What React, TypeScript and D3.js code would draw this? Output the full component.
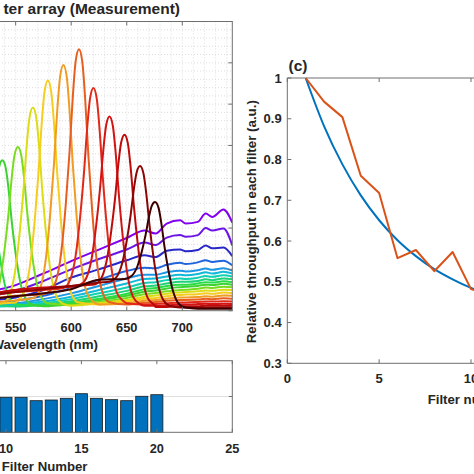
import * as d3 from 'd3'

// ---------- (b) measured transmission of the filter array ----------
const wavelengthTicks = [550, 600, 650, 700]
const transmissionTicks = [0, 0.1, 0.2, 0.3, 0.4, 0.5, 0.6, 0.7]

const filterColors = [
  '#8000f0', '#6a14e6', '#2828c8', '#1e64dc', '#1e96e6',
  '#10b9d7', '#10d2b4', '#1ed278', '#28dc46', '#3cd232',
  '#78dc1e', '#dcdc14', '#f5cd1e', '#f09b23', '#e65f1e',
  '#e12819', '#d21414', '#be0a0a', '#8c0505', '#3c0000',
]

// centre wavelength (nm) and peak transmission of every filter
const peakCenters = [414, 428, 442, 455, 469, 483, 497, 511, 524, 538, 552, 565.5, 579, 593, 607, 620, 634.5, 648, 662, 675.5]
const peakTops = [0.12, 0.15, 0.18, 0.21, 0.24, 0.27, 0.29, 0.31, 0.33, 0.364, 0.396, 0.492, 0.557, 0.595, 0.633, 0.539, 0.47, 0.426, 0.35, 0.263]

// measured passband profile (offset in nm, fraction of the peak)
const peakOffsets = [-27, -21, -16, -12, -8.5, -5.5, -3, 0, 3, 5.5, 8.5, 12, 16, 21, 27]
const peakShape = [0.01, 0.05, 0.17, 0.36, 0.58, 0.81, 0.95, 1, 0.95, 0.81, 0.58, 0.36, 0.17, 0.05, 0.01]

// out-of-band leakage of every filter, sampled on this wavelength grid
const leakGrid = [400, 450, 500, 525, 550, 575, 600, 625, 650, 666, 676, 686, 698, 703, 714, 721, 727, 737, 745]
const leakage = [
  [0.03, 0.02, 0.03, 0.045, 0.062, 0.09, 0.12, 0.148, 0.176, 0.194, 0.187, 0.211, 0.219, 0.211, 0.215, 0.235, 0.227, 0.245, 0.213],
  [0.02, 0.02, 0.025, 0.035, 0.048, 0.072, 0.1, 0.125, 0.148, 0.165, 0.159, 0.177, 0.183, 0.179, 0.183, 0.2, 0.194, 0.199, 0.158],
  [0.01, 0.015, 0.02, 0.025, 0.032, 0.05, 0.08, 0.1, 0.122, 0.134, 0.13, 0.145, 0.148, 0.144, 0.147, 0.158, 0.151, 0.153, 0.132],
  [0.01, 0.01, 0.015, 0.018, 0.024, 0.036, 0.055, 0.075, 0.096, 0.104, 0.103, 0.111, 0.116, 0.113, 0.117, 0.122, 0.118, 0.121, 0.11],
  [0.01, 0.01, 0.012, 0.014, 0.018, 0.028, 0.042, 0.06, 0.078, 0.087, 0.087, 0.093, 0.097, 0.095, 0.098, 0.102, 0.099, 0.103, 0.097],
  [0.005, 0.01, 0.012, 0.012, 0.015, 0.022, 0.034, 0.05, 0.066, 0.077, 0.078, 0.083, 0.087, 0.086, 0.089, 0.093, 0.09, 0.094, 0.09],
  [0.005, 0.008, 0.01, 0.01, 0.012, 0.018, 0.028, 0.042, 0.056, 0.067, 0.069, 0.074, 0.078, 0.077, 0.08, 0.084, 0.082, 0.086, 0.083],
  [0.005, 0.006, 0.008, 0.009, 0.01, 0.015, 0.023, 0.035, 0.048, 0.059, 0.061, 0.066, 0.07, 0.07, 0.072, 0.076, 0.074, 0.078, 0.076],
  [0.004, 0.005, 0.006, 0.008, 0.009, 0.012, 0.019, 0.029, 0.041, 0.052, 0.055, 0.06, 0.063, 0.063, 0.066, 0.069, 0.068, 0.071, 0.069],
  [0.004, 0.005, 0.008, 0.01, 0.01, 0.011, 0.016, 0.025, 0.036, 0.046, 0.049, 0.054, 0.057, 0.058, 0.06, 0.063, 0.062, 0.065, 0.063],
  [0.004, 0.005, 0.008, 0.012, 0.014, 0.01, 0.014, 0.021, 0.031, 0.04, 0.043, 0.047, 0.05, 0.051, 0.053, 0.056, 0.055, 0.058, 0.057],
  [0.004, 0.006, 0.01, 0.014, 0.016, 0.018, 0.012, 0.018, 0.026, 0.034, 0.037, 0.041, 0.044, 0.045, 0.047, 0.049, 0.048, 0.051, 0.05],
  [0.004, 0.008, 0.012, 0.016, 0.02, 0.022, 0.02, 0.015, 0.022, 0.029, 0.031, 0.035, 0.038, 0.039, 0.04, 0.042, 0.041, 0.044, 0.043],
  [0.005, 0.01, 0.015, 0.02, 0.025, 0.028, 0.03, 0.015, 0.018, 0.024, 0.026, 0.029, 0.032, 0.032, 0.033, 0.035, 0.034, 0.037, 0.036],
  [0.006, 0.012, 0.02, 0.028, 0.036, 0.04, 0.042, 0.04, 0.015, 0.019, 0.021, 0.024, 0.026, 0.026, 0.027, 0.029, 0.028, 0.03, 0.029],
  [0.006, 0.014, 0.025, 0.035, 0.045, 0.05, 0.052, 0.05, 0.018, 0.015, 0.016, 0.018, 0.02, 0.02, 0.021, 0.022, 0.022, 0.023, 0.022],
  [0.006, 0.015, 0.028, 0.04, 0.05, 0.056, 0.058, 0.06, 0.055, 0.012, 0.012, 0.013, 0.015, 0.015, 0.016, 0.017, 0.016, 0.017, 0.016],
  [0.006, 0.015, 0.03, 0.04, 0.05, 0.055, 0.06, 0.065, 0.06, 0.03, 0.009, 0.009, 0.011, 0.011, 0.011, 0.012, 0.012, 0.012, 0.012],
  [0.005, 0.015, 0.03, 0.038, 0.045, 0.052, 0.06, 0.068, 0.076, 0.08, 0.02, 0.007, 0.008, 0.008, 0.008, 0.008, 0.008, 0.008, 0.008],
  [0.004, 0.012, 0.022, 0.028, 0.035, 0.042, 0.052, 0.075, 0.095, 0.11, 0.12, 0.01, 0.005, 0.005, 0.005, 0.005, 0.005, 0.005, 0.005],
]

// ---------- uniformity bars ----------
const filterNumbers = [1, 2, 3, 4, 5, 6, 7, 8, 9, 10, 11, 12, 13, 14, 15, 16, 17, 18, 19, 20]
const barValues = [1.01, 0.98, 1.03, 0.96, 1.0, 0.97, 1.02, 0.95, 0.99, 0.978, 0.978, 0.883, 0.902, 0.95, 1.078, 0.95, 0.911, 0.883, 1.006, 1.05]
const barTicks = [10, 15, 20, 25]

// ---------- (c) relative throughput ----------
const throughputFilters = [1, 2, 3, 4, 5, 6, 7, 8, 9, 10, 11]
const fittedThroughput = [1.0, 0.882, 0.788, 0.712, 0.651, 0.602, 0.563, 0.531, 0.506, 0.485, 0.469]
const measuredThroughput = [1.0, 0.942, 0.904, 0.76, 0.718, 0.558, 0.578, 0.526, 0.573, 0.482, 0.47]
const throughputYTicks = [0.3, 0.4, 0.5, 0.6, 0.7, 0.8, 0.9, 1]
const throughputXTicks = [0, 5, 10, 15]

const ink = '#262626'
const axisGrey = '#6f6f6f'
const font = "'Liberation Sans', Arial, Helvetica, sans-serif"

type Pt = [number, number]

function spectrumPoints(i: number): Pt[] {
  const c = peakCenters[i]
  const top = peakTops[i]
  const sampled: Pt[] = leakGrid.map((w, k) => [w, leakage[i][k]])
  const left = sampled.filter(([w]) => w < c && c - w > 27.5)
  const right = sampled.filter(([w]) => w > c && w - c > 27.5)
  const leftBase = left.length ? left[left.length - 1][1] : right[0][1]
  const rightBase = right.length ? right[0][1] : leftBase
  const peak: Pt[] = peakOffsets.map((o, k) => {
    const base = o < 0 ? leftBase : o > 0 ? rightBase : top
    return [c + o, base + (top - base) * peakShape[k]]
  })
  return [...left, ...peak, ...right]
}

function SpectraPanel() {
  const x = d3.scaleLinear().domain([400, 745]).range([-151, 232.3])
  const y = d3.scaleLinear().domain([0, 0.7]).range([310.7, 21.5])
  const line = d3
    .line<Pt>()
    .x((d) => x(d[0]))
    .y((d) => y(d[1]))
    .curve(d3.curveMonotoneX)
  const [x0, x1] = x.range()
  const [yb, yt] = y.range()
  const minorX = d3.range(410, 745, 10)
  const minorY = d3.range(1, 35).map((k) => k * 0.02)

  return (
    <g>
      <defs>
        <clipPath id="specClip">
          <rect x={x0} y={yt} width={x1 - x0} height={yb - yt} />
        </clipPath>
      </defs>
      {minorX.map((w) => (
        <line key={`gx${w}`} x1={x(w)} x2={x(w)} y1={yt} y2={yb} stroke="#d4d4d4" strokeWidth={0.8} strokeDasharray="1 2" />
      ))}
      {minorY.map((v) => (
        <line key={`gy${v}`} x1={x0} x2={x1} y1={y(v)} y2={y(v)} stroke="#d4d4d4" strokeWidth={0.8} strokeDasharray="1 2" />
      ))}
      <g clipPath="url(#specClip)">
        {filterColors.map((color, i) => (
          <path
            key={`f${i}`}
            d={line(spectrumPoints(i)) ?? ''}
            fill="none"
            stroke={color}
            strokeWidth={2}
            strokeLinejoin="round"
          />
        ))}
      </g>
      <rect x={x0} y={yt} width={x1 - x0} height={yb - yt} fill="none" stroke={axisGrey} strokeWidth={1} />
      {wavelengthTicks.map((t) => (
        <g key={`wt${t}`}>
          <line x1={x(t)} x2={x(t)} y1={yb} y2={yb - 4} stroke={axisGrey} />
          <line x1={x(t)} x2={x(t)} y1={yt} y2={yt + 4} stroke={axisGrey} />
          <text x={x(t)} y={331.7} textAnchor="middle" fontSize={12.8} fontWeight="bold" fill={ink}>
            {t}
          </text>
        </g>
      ))}
      {transmissionTicks.map((t) => (
        <line key={`tt${t}`} x1={x1} x2={x1 - 4} y1={y(t)} y2={y(t)} stroke={axisGrey} />
      ))}
      <text x={180} y={14} textAnchor="end" fontSize={15.5} fontWeight="bold" fill={ink}>
        ter array (Measurement)
      </text>
      <text x={98} y={349} textAnchor="end" fontSize={13.3} fontWeight="bold" fill={ink}>
        Wavelength (nm)
      </text>
    </g>
  )
}

function UniformityPanel() {
  const x = d3.scaleLinear().domain([0, 25]).range([-144.9, 232.3])
  const y = d3.scaleLinear().domain([0, 2]).range([432.3, 360.7])
  const barWidth = (x(1) - x(0)) * 0.8
  const [x0, x1] = x.range()
  const [yb, yt] = y.range()

  return (
    <g>
      <line x1={x0} x2={x1} y1={y(1)} y2={y(1)} stroke="#dedede" strokeWidth={1} />
      {filterNumbers.map((n, i) => (
        <rect
          key={`b${n}`}
          x={x(n) - barWidth / 2}
          y={y(barValues[i])}
          width={barWidth}
          height={yb - y(barValues[i])}
          fill="#0072bd"
          stroke="#1b1b1b"
          strokeWidth={0.8}
        />
      ))}
      <rect x={x0} y={yt} width={x1 - x0} height={yb - yt} fill="none" stroke={axisGrey} strokeWidth={1} />
      {barTicks.map((t) => (
        <g key={`bt${t}`}>
          <line x1={x(t)} x2={x(t)} y1={yb} y2={yb - 3.5} stroke={axisGrey} />
          <line x1={x(t)} x2={x(t)} y1={yt} y2={yt + 3.5} stroke={axisGrey} />
          <text x={x(t)} y={452.7} textAnchor="middle" fontSize={12.8} fontWeight="bold" fill={ink}>
            {t}
          </text>
        </g>
      ))}
      <line x1={x1} x2={x1 - 3.5} y1={y(1)} y2={y(1)} stroke={axisGrey} />
      <text x={87.5} y={471} textAnchor="end" fontSize={13.2} fontWeight="bold" fill={ink}>
        Filter Number
      </text>
    </g>
  )
}

function ThroughputPanel() {
  const x = d3.scaleLinear().domain([0, 20]).range([287.3, 654.7])
  const y = d3.scaleLinear().domain([0.3, 1]).range([363.3, 78])
  const fitPath =
    d3
      .line<number>()
      .x((_, i) => x(throughputFilters[i]))
      .y((d) => y(d))
      .curve(d3.curveMonotoneX)(fittedThroughput) ?? ''
  const measuredPath =
    d3
      .line<number>()
      .x((_, i) => x(throughputFilters[i]))
      .y((d) => y(d))(measuredThroughput) ?? ''
  const [x0, x1] = x.range()
  const [yb, yt] = y.range()

  return (
    <g>
      <path d={fitPath} fill="none" stroke="#0072bd" strokeWidth={2} />
      <path d={measuredPath} fill="none" stroke="#d95319" strokeWidth={2} strokeLinejoin="round" />
      <line x1={x0} x2={x1} y1={yb} y2={yb} stroke={axisGrey} />
      <line x1={x0} x2={x1} y1={yt} y2={yt} stroke={axisGrey} />
      <line x1={x0} x2={x0} y1={yt} y2={yb} stroke={axisGrey} />
      {throughputYTicks.map((t) => (
        <g key={`ty${t}`}>
          <line x1={x0} x2={x0 + 4} y1={y(t)} y2={y(t)} stroke={axisGrey} />
          <text x={281.7} y={y(t)} dy="0.36em" textAnchor="end" fontSize={13} fontWeight="bold" fill={ink}>
            {t}
          </text>
        </g>
      ))}
      {throughputXTicks.map((t) => (
        <g key={`tx${t}`}>
          <line x1={x(t)} x2={x(t)} y1={yb} y2={yb - 4} stroke={axisGrey} />
          <line x1={x(t)} x2={x(t)} y1={yt} y2={yt + 4} stroke={axisGrey} />
          <text x={x(t)} y={383.3} textAnchor="middle" fontSize={13} fontWeight="bold" fill={ink}>
            {t}
          </text>
        </g>
      ))}
      <text x={288.5} y={70.7} fontSize={15.5} fontWeight="bold" fill={ink}>
        (c)
      </text>
      <text
        transform="translate(256.2,221.7) rotate(-90)"
        textAnchor="middle"
        fontSize={13.3}
        fontWeight="bold"
        fill={ink}
      >
        Relative throughput in each filter (a.u.)
      </text>
      <text x={427.7} y={403.5} fontSize={13.2} fontWeight="bold" fill={ink}>
        Filter number
      </text>
    </g>
  )
}

export default function App() {
  return (
    <svg
      width={474}
      height={474}
      viewBox="0 0 474 474"
      fontFamily={font}
      style={{ position: 'fixed', left: 0, top: 0, background: '#ffffff' }}
    >
      <rect x={0} y={0} width={474} height={474} fill="#ffffff" />
      <SpectraPanel />
      <UniformityPanel />
      <ThroughputPanel />
    </svg>
  )
}
